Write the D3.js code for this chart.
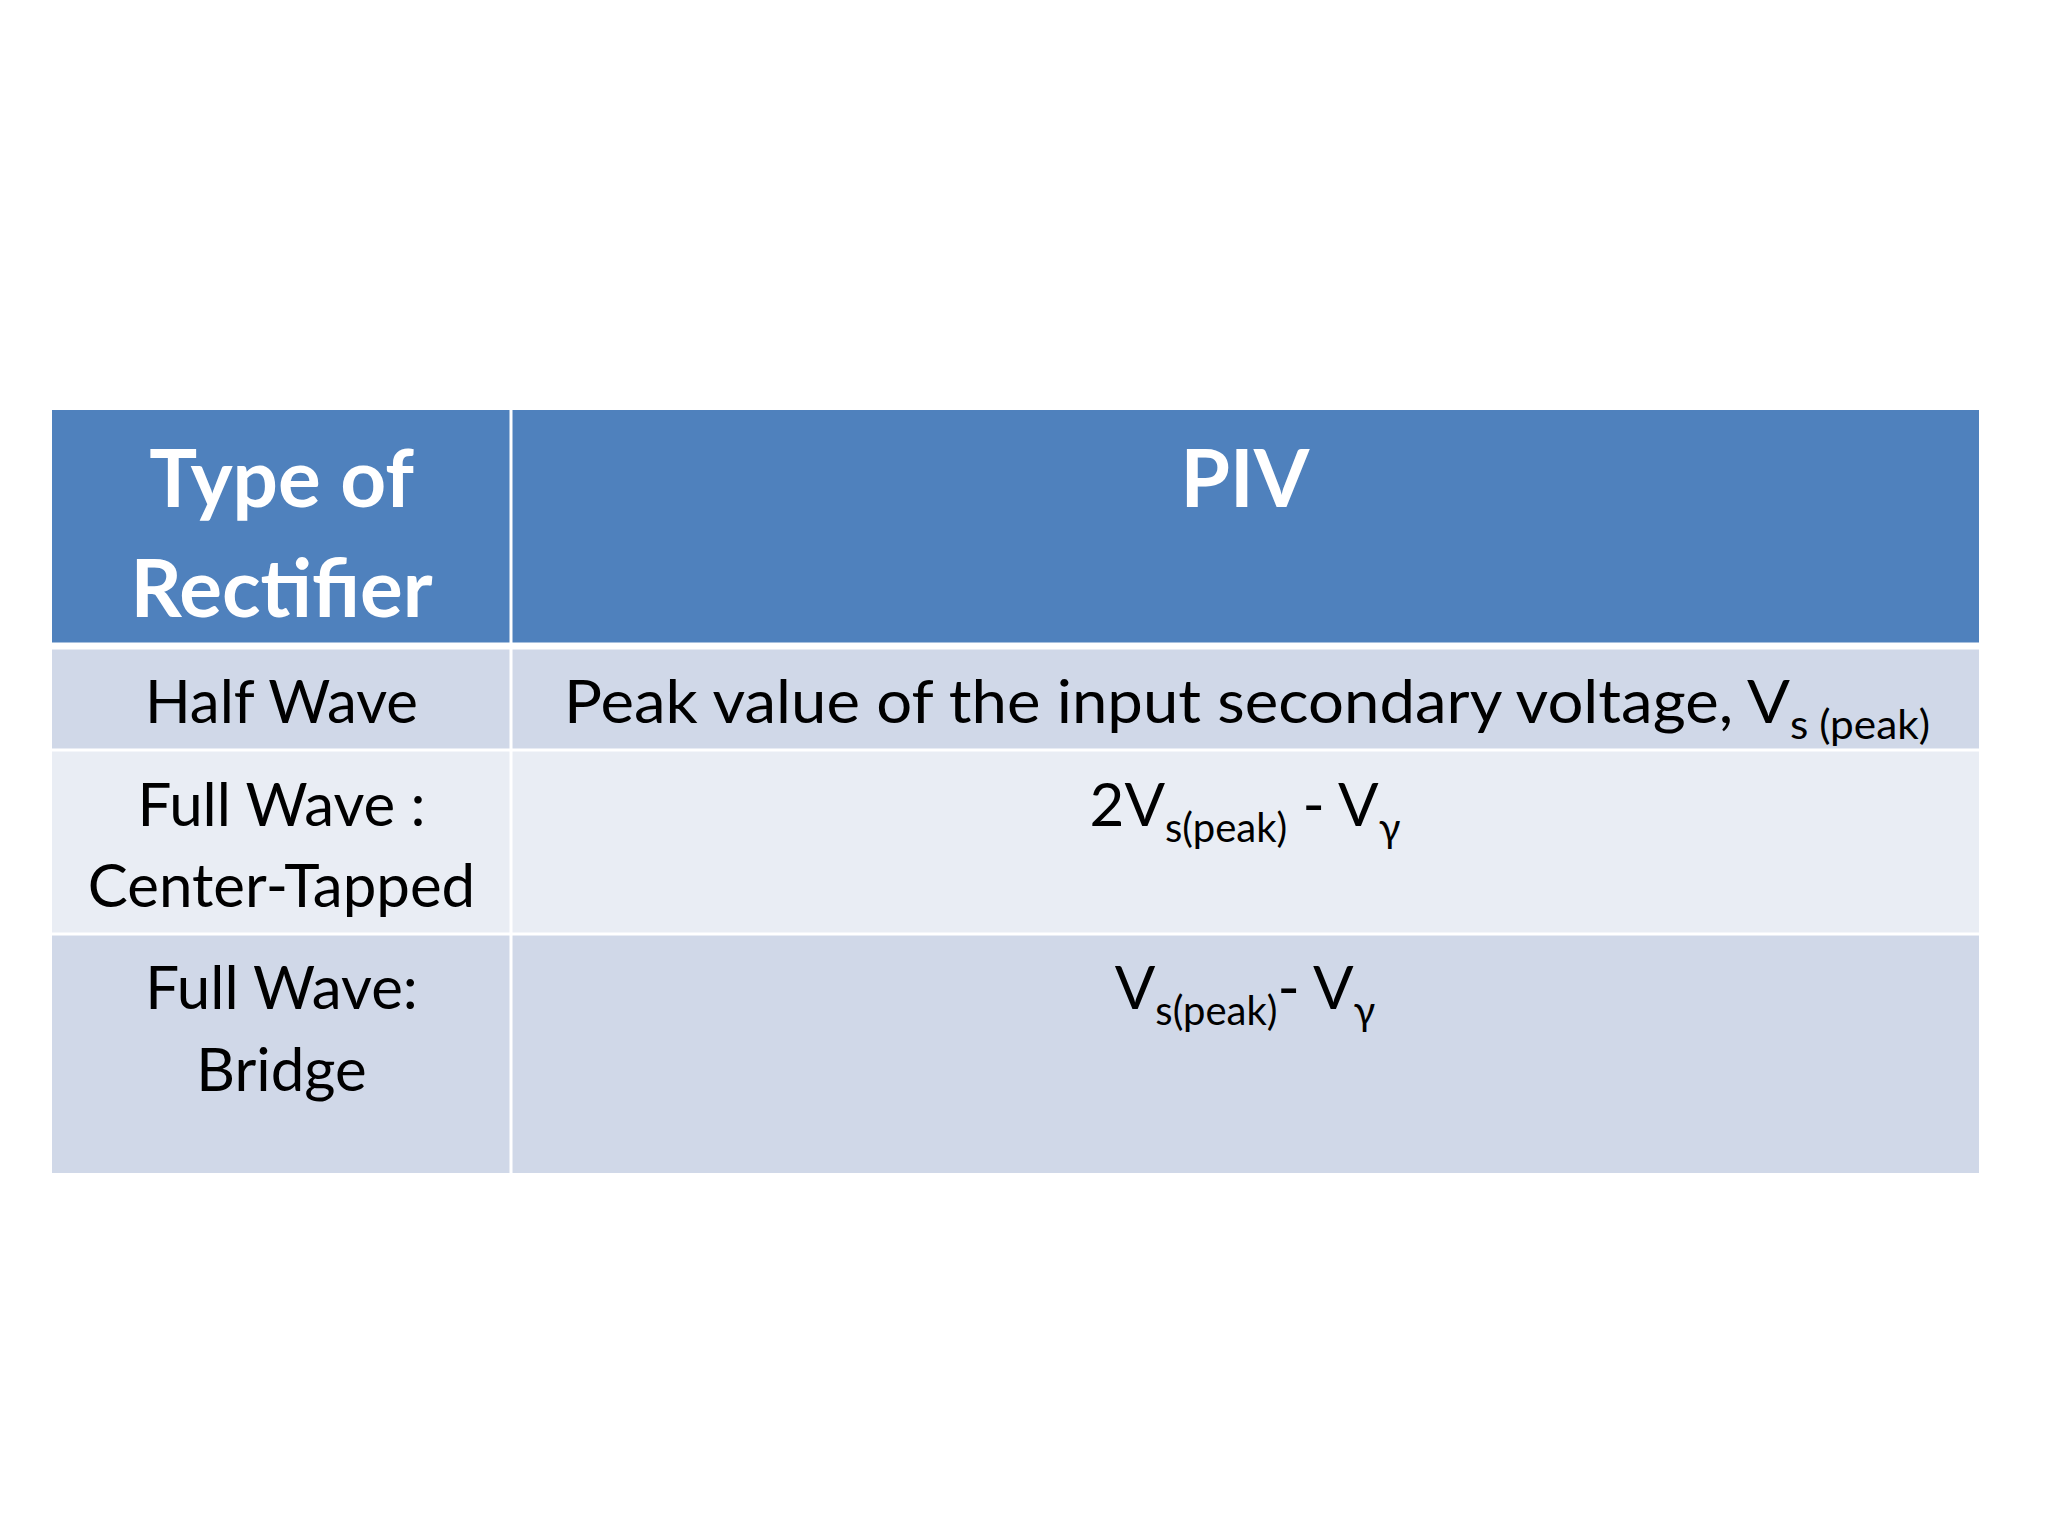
<!DOCTYPE html><html><head><meta charset="utf-8"><script src="https://cdn.jsdelivr.net/npm/d3@7"></script>
<style>body{margin:0;background:#fff}svg{display:block}</style></head><body><script>
const headers=["Type of|Rectifier","PIV"];
const rowTypes=["Half Wave","Full Wave :|Center-Tapped","Full Wave:|Bridge"];
// PIV formulas as [text, isSubscript] segments
const rowPIV=[
 [["Peak value of the input secondary voltage, V",0],["s (peak)",1]],
 [["2V",0],["s(peak)",1],[" - V",0],["γ",1]],
 [["V",0],["s(peak)",1],["- V",0],["γ",1]]
];
const W=2048,H=1536;
const svg=d3.select("body").append("svg").attr("width",W).attr("height",H);
const x=d3.scaleLinear().domain([0,1]).range([52,1979]);
const split=511;
const edges=[410,646,750,934,1173];
const fills=["#4F81BD","#D0D8E8","#E9EDF4","#D0D8E8"];
const font="Lato, 'Open Sans', sans-serif";
for(let i=0;i<4;i++){
  svg.append("rect").attr("x",x(0)).attr("y",edges[i]).attr("width",x(1)-x(0)).attr("height",edges[i+1]-edges[i]).attr("fill",fills[i]);
}
edges.slice(1,4).forEach((e,i)=>svg.append("line").attr("x1",x(0)).attr("x2",x(1)).attr("y1",e).attr("y2",e).attr("stroke","#fff").attr("stroke-width",i==0?7:3));
svg.append("line").attr("x1",split).attr("x2",split).attr("y1",edges[0]).attr("y2",edges[4]).attr("stroke","#fff").attr("stroke-width",3);
const c1=(x(0)+split)/2, c2=1245;
const hb=[[507,617],[507]];
headers.forEach((h,i)=>{h.split("|").forEach((t,j)=>{
  svg.append("text").attr("x",i==0?c1:c2).attr("y",hb[i][j]).attr("text-anchor","middle").attr("fill","#fff")
   .attr("font-family",font).attr("font-weight","bold").attr("font-size",80).text(t);});});
const base=[[723],[826,907],[1009,1091]];
rowTypes.forEach((r,i)=>r.split("|").forEach((t,j)=>{
  svg.append("text").attr("x",c1).attr("y",base[i][j]).attr("text-anchor","middle").attr("fill","#000")
   .attr("font-family",font).attr("font-size",60).text(t);}));
rowPIV.forEach((segs,i)=>{
  const t=svg.append("text").attr("y",base[i][0]).attr("fill","#000").attr("font-family",font).attr("font-size",60);
  if(i==0) t.attr("x",564); else t.attr("x",c2).attr("text-anchor","middle");
  segs.forEach(([s,sub],k)=>{
    const prev=k>0&&segs[k-1][1];
    const sp=t.append("tspan").text(s).attr("dy",sub&&!prev?16:(!sub&&prev?-16:0));
    if(sub) sp.attr("font-size",40);
  });
  if(i==0) t.attr("textLength",1930-564).attr("lengthAdjust","spacingAndGlyphs");
});
</script></body></html>
